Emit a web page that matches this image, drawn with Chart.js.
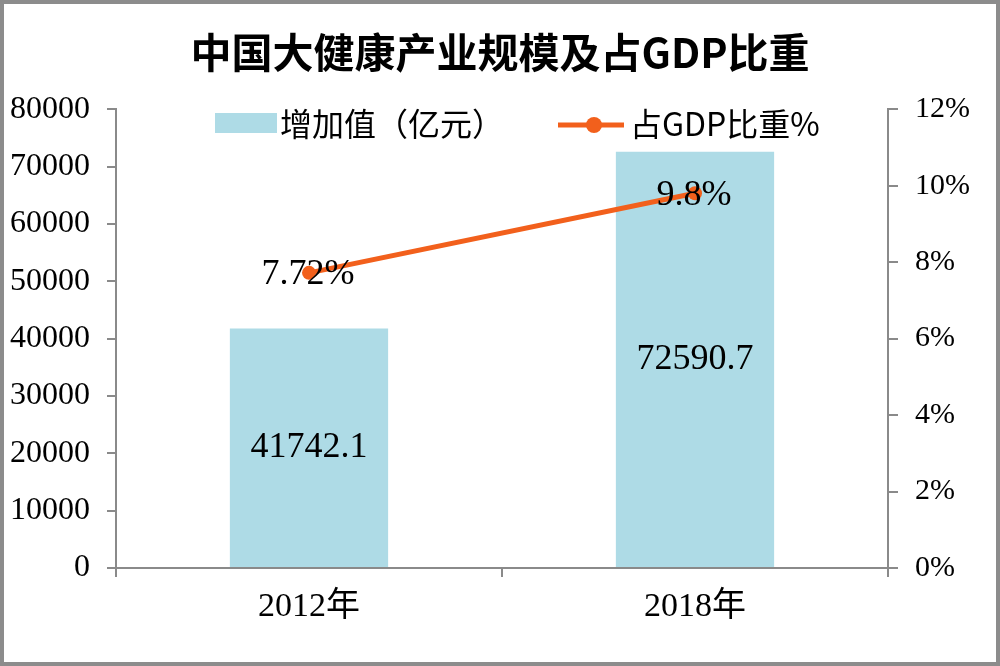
<!DOCTYPE html>
<html><head><meta charset="utf-8">
<script src="https://cdn.jsdelivr.net/npm/chart.js@4.4.1/dist/chart.umd.min.js"></script>
<style>html,body{margin:0;padding:0;background:#fff;overflow:hidden;}#wrap{width:1000px;height:666px;position:relative;}</style>
</head><body><div id="wrap"><canvas id="c" width="1000" height="666"></canvas></div>
<script>
const chartTitle = '中国大健康产业规模及占GDP比重';
const categories = ['2012年', '2018年'];
const barSeriesName = '增加值（亿元）';
const barValues = [41742.1, 72590.7];
const lineSeriesName = '占GDP比重%';
const lineValues = [7.72, 9.8];
const leftTicks = [0, 10000, 20000, 30000, 40000, 50000, 60000, 70000, 80000];
const rightTicks = [0, 2, 4, 6, 8, 10, 12];

const BAR_COLOR = '#aedbe6';
const LINE_COLOR = '#f2601c';
const AXIS_COLOR = '#8a8a8a';
const SERIF = '"Liberation Serif", "Noto Sans CJK SC", serif';
const CJK = '"Noto Sans CJK SC", sans-serif';

const extras = {
  id: 'extras',
  afterDatasetsDraw(chart) {
    const ctx = chart.ctx;
    ctx.save();
    ctx.fillStyle = '#000';
    ctx.textAlign = 'center';
    ctx.textBaseline = 'middle';
    ctx.font = '36px ' + SERIF;
    const barMeta = chart.getDatasetMeta(0);
    barMeta.data.forEach((el, i) => {
      ctx.fillText(String(barValues[i]), el.x, (el.y + el.base) / 2);
    });
    const lineMeta = chart.getDatasetMeta(1);
    lineMeta.data.forEach((el, i) => {
      ctx.fillText(String(lineValues[i]) + '%', el.x - 1, el.y + 2);
    });
    ctx.restore();
  },
  afterDraw(chart) {
    const ctx = chart.ctx;
    ctx.save();
    // legend
    const ly = 123;
    ctx.fillStyle = BAR_COLOR;
    ctx.fillRect(215, ly - 10, 62, 20);
    ctx.fillStyle = '#000';
    ctx.textAlign = 'left';
    ctx.textBaseline = 'middle';
    ctx.font = '32px ' + CJK;
    ctx.fillText(chart.data.datasets[0].label, 280, ly + 1);
    ctx.strokeStyle = LINE_COLOR;
    ctx.lineWidth = 5;
    ctx.beginPath();
    ctx.moveTo(558, ly + 2);
    ctx.lineTo(624, ly + 2);
    ctx.stroke();
    ctx.fillStyle = LINE_COLOR;
    ctx.beginPath();
    ctx.arc(594, ly + 2, 8, 0, Math.PI * 2);
    ctx.fill();
    ctx.fillStyle = '#000';
    ctx.font = '32px ' + CJK;
    ctx.fillText(chart.data.datasets[1].label, 630, ly + 1);
    // frame
    ctx.strokeStyle = '#8c8c8c';
    ctx.lineWidth = 4;
    ctx.strokeRect(2, 2, 996, 662);
    ctx.restore();
  }
};

new Chart(document.getElementById('c'), {
  data: {
    labels: categories,
    datasets: [
      {
        type: 'bar', label: barSeriesName, data: barValues, yAxisID: 'y',
        backgroundColor: BAR_COLOR, barPercentage: 0.41, categoryPercentage: 1, order: 1
      },
      {
        type: 'line', label: lineSeriesName, data: lineValues, yAxisID: 'y1',
        borderColor: LINE_COLOR, backgroundColor: LINE_COLOR, borderWidth: 5,
        pointRadius: 7, pointBorderWidth: 0, pointBackgroundColor: LINE_COLOR, order: 0, tension: 0
      }
    ]
  },
  options: {
    responsive: false, animation: false, devicePixelRatio: 1,
    layout: { padding: { left: 0, right: 0, top: 0, bottom: 0 } },
    plugins: {
      legend: { display: false },
      tooltip: { enabled: false },
      title: {
        display: true, text: chartTitle, color: '#000',
        font: { family: CJK, size: 41, weight: 'bold' },
        padding: { top: 28, bottom: 32 }
      }
    },
    scales: {
      x: {
        type: 'category', offset: true,
        grid: { offset: true, drawOnChartArea: false, drawTicks: true, tickLength: 9, color: AXIS_COLOR, lineWidth: 2 },
        border: { color: AXIS_COLOR, width: 2 },
        ticks: { color: '#000', font: { family: SERIF, size: 34 }, padding: 10, maxRotation: 0 },
        afterFit(s) { s.height = 98; }
      },
      y: {
        position: 'left', min: 0, max: 80000,
        afterBuildTicks(s) { s.ticks = leftTicks.map(v => ({ value: v })); },
        grid: { drawOnChartArea: false, drawTicks: true, tickLength: 9, color: AXIS_COLOR, lineWidth: 2 },
        border: { color: AXIS_COLOR, width: 2 },
        ticks: { color: '#000', font: { family: SERIF, size: 32 }, padding: 17, callback: v => String(v) },
        afterFit(s) { s.width = 116; }
      },
      y1: {
        position: 'right', min: 0, max: 12,
        afterBuildTicks(s) { s.ticks = rightTicks.map(v => ({ value: v })); },
        grid: { drawOnChartArea: false, drawTicks: true, tickLength: 10, color: AXIS_COLOR, lineWidth: 2 },
        border: { color: AXIS_COLOR, width: 2 },
        ticks: { color: '#000', font: { family: SERIF, size: 30 }, padding: 17, callback: v => v + '%' },
        afterFit(s) { s.width = 112; }
      }
    }
  },
  plugins: [extras]
});
</script></body></html>
